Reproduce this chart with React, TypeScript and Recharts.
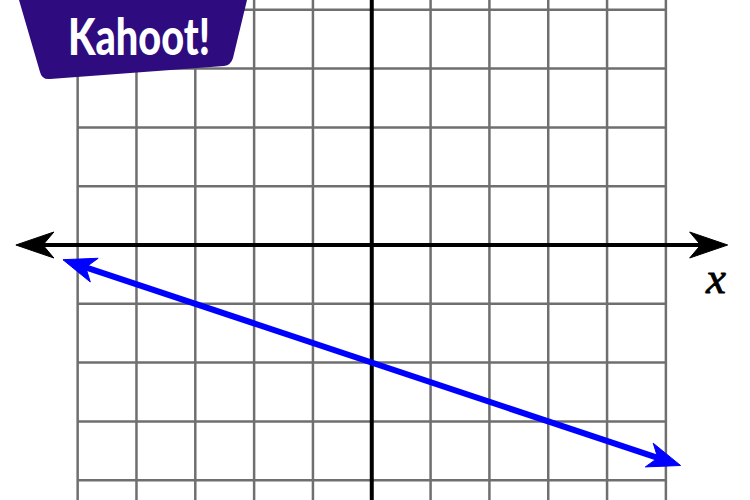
import React from 'react';
import { ComposedChart, XAxis, YAxis, ReferenceLine } from 'recharts';

// grid positions (units)
const gridXs = [-5, -4, -3, -2, -1, 1, 2, 3, 4, 5];
const gridYs = [-4, -3, -2, -1, 1, 2, 3, 4];
const gridSpan = [-5, 5];

// x axis with arrows at both ends
const axisXs = [-6.05, 6.05];

// the plotted line y = -x/3 - 2, from arrow tip to arrow tip
const lineXs = [-5.25, 5.25];
const lineYs = [-0.25, -3.75];

const xDomain = [-6.32, 6.43];
const yDomain = [-4.337, 4.167];

const GRID = '#6f6f6f';
const AXIS = '#000000';
const BLUE = '#0000ff';
const PURPLE = '#2e0c7f';

const head = (tx: number, ty: number, ux: number, uy: number, len: number, half: number, notch: number) => {
	const nx = -uy;
	const ny = ux;
	const bx = tx - len * ux;
	const by = ty - len * uy;
	return {
		d: `M${tx},${ty} L${bx + half * nx},${by + half * ny} L${tx - notch * ux},${ty - notch * uy} L${bx - half * nx},${by - half * ny} Z`,
		nx: tx - notch * ux,
		ny: ty - notch * uy,
	};
};

const arrowShape = (color: string, width: number, len: number, half: number, notch: number) => (p: any) => {
	const { x1, y1, x2, y2 } = p;
	const dx = x2 - x1;
	const dy = y2 - y1;
	const l = Math.sqrt(dx * dx + dy * dy) || 1;
	const ux = dx / l;
	const uy = dy / l;
	const end = head(x2, y2, ux, uy, len, half, notch);
	const start = head(x1, y1, -ux, -uy, len, half, notch);
	return (
		<g>
			<line x1={start.nx} y1={start.ny} x2={end.nx} y2={end.ny} stroke={color} strokeWidth={width} />
			<path d={start.d} fill={color} stroke={color} strokeWidth={1} strokeLinejoin='miter' />
			<path d={end.d} fill={color} stroke={color} strokeWidth={1} strokeLinejoin='miter' />
		</g>
	);
};

const KahootLogo = () => (
	<svg width={750} height={500} style={{ position: 'absolute', left: 0, top: 0, pointerEvents: 'none' }}>
		<path d='M19,0 L247,0 L233,58 Q231,65 224,66 L50,79 Q42,80 40,72 Z' fill={PURPLE} />
		<text x={68} y={55} fill='#ffffff' fontFamily='Lato, "Noto Sans", sans-serif' fontWeight={900} fontSize={52} textLength={142} lengthAdjust='spacingAndGlyphs'>
			Kahoot!
		</text>
		<text x={716} y={293} textAnchor='middle' fill='#000000' stroke='#000000' strokeWidth={0.8} fontFamily='"Liberation Serif", "DejaVu Serif", serif' fontStyle='italic' fontSize={45}>
			x
		</text>
	</svg>
);

export default function App() {
	return (
		<div style={{ position: 'absolute', left: 0, top: 0, width: 750, height: 500, background: '#ffffff', overflow: 'hidden' }}>
			<ComposedChart width={750} height={500} margin={{ top: 0, right: 0, bottom: 0, left: 0 }}>
				<XAxis type='number' dataKey='x' domain={xDomain} allowDataOverflow hide />
				<YAxis type='number' dataKey='y' domain={yDomain} allowDataOverflow hide />

				{gridXs.map((gx) => (
					<ReferenceLine key={'v' + gx} x={gx} stroke={GRID} strokeWidth={2.5} ifOverflow='visible' />
				))}
				{gridYs.map((gy) => (
					<ReferenceLine
						key={'h' + gy}
						segment={[
							{ x: gridSpan[0], y: gy },
							{ x: gridSpan[1], y: gy },
						]}
						stroke={GRID}
						strokeWidth={2.5}
						ifOverflow='visible'
					/>
				))}

				<ReferenceLine x={0} stroke={AXIS} strokeWidth={4} ifOverflow='visible' />
				<ReferenceLine
					segment={[
						{ x: axisXs[0], y: 0 },
						{ x: axisXs[1], y: 0 },
					]}
					ifOverflow='visible'
					shape={arrowShape(AXIS, 4, 38, 13, 27)}
				/>

				<ReferenceLine
					segment={[
						{ x: lineXs[0], y: lineYs[0] },
						{ x: lineXs[1], y: lineYs[1] },
					]}
					ifOverflow='visible'
					shape={arrowShape(BLUE, 6, 33, 12.5, 24)}
				/>
			</ComposedChart>
			<KahootLogo />
		</div>
	);
}
